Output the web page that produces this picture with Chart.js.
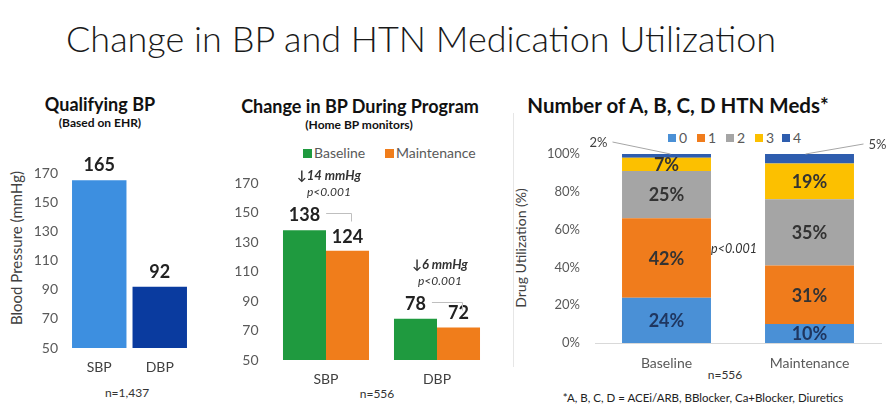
<!DOCTYPE html>
<html><head><meta charset="utf-8">
<script src="https://cdn.jsdelivr.net/npm/chart.js@4.4.1/dist/chart.umd.min.js"></script>
<style>
html,body{margin:0;padding:0;background:#fff;}
#root{position:relative;width:886px;height:408px;overflow:hidden;font-family:Lato,'Open Sans',sans-serif;color:#111;}
.t{position:absolute;white-space:nowrap;transform:translate(-50%,-50%);line-height:1;}
.r{position:absolute;white-space:nowrap;line-height:1;transform:translate(-50%,-50%) rotate(-90deg);}
canvas{position:absolute;}
.sq{position:absolute;width:8px;height:8px;}
.lg{position:absolute;white-space:nowrap;line-height:1;transform:translateY(-50%);color:#595959;font-size:14px;}
</style></head><body><div id="root">
<div style="position:absolute;left:66px;top:20px;font-size:36px;font-weight:300;line-height:1;white-space:nowrap;color:#1a1a1a;">Change in BP and HTN Medication Utilization</div>

<div class="t" style="left:100px;top:104px;font-size:18px;font-weight:700;">Qualifying BP</div>
<div class="t" style="left:100px;top:123px;font-size:12px;font-weight:700;">(Based on EHR)</div>
<div class="r" style="left:16px;top:248px;font-size:15px;color:#404040;">Blood Pressure (mmHg)</div>
<div class="t" style="left:127px;top:393px;font-size:12px;color:#333;">n=1,437</div>

<div class="t" style="left:360px;top:106px;font-size:18px;font-weight:700;">Change in BP During Program</div>
<div class="t" style="left:359px;top:125px;font-size:12px;font-weight:700;">(Home BP monitors)</div>
<div class="sq" style="left:303px;top:149px;width:9px;height:9px;background:#1f9a3f;"></div>
<div class="lg" style="left:314px;top:153px;">Baseline</div>
<div class="sq" style="left:385px;top:149px;width:9px;height:9px;background:#f07d1b;"></div>
<div class="lg" style="left:396px;top:153px;">Maintenance</div>
<div class="t" style="left:377px;top:394px;font-size:12px;color:#333;">n=556</div>

<div style="position:absolute;left:513px;top:113px;width:1px;height:254px;background:#e6e6e6;"></div>
<div class="t" style="left:678px;top:105px;font-size:20.5px;font-weight:700;">Number of A, B, C, D HTN Meds*</div>
<div id="legend3"></div>
<div class="r" style="left:521px;top:248px;font-size:14px;color:#404040;">Drug Utilization (%)</div>
<div class="t" style="left:725px;top:375px;font-size:12px;color:#333;">n=556</div>
<div class="t" style="left:703px;top:398px;font-size:11.5px;color:#222;">*A, B, C, D = ACEi/ARB, BBlocker, Ca+Blocker, Diuretics</div>

<canvas id="c1" width="200" height="240" style="left:0px;top:150px;width:200px;height:240px;"></canvas>
<canvas id="c2" width="280" height="230" style="left:220px;top:160px;width:280px;height:230px;"></canvas>
<canvas id="c3" width="366" height="250" style="left:520px;top:130px;width:366px;height:250px;"></canvas>
</div>
<script>
// ---- data ----
const bpCategories = ['SBP', 'DBP'];
const qualifyingBP = [165, 92];
const bpTickMin = 50, bpTickMax = 170, bpTickStep = 20;

const programCategories = ['SBP', 'DBP'];
const baselineBP = [138, 78];
const maintenanceBP = [124, 72];
const changeText = ['↓14 mmHg', '↓6 mmHg'];
const pText = ['p<0.001', 'p<0.001'];

const medPeriods = ['Baseline', 'Maintenance'];
const medCountLabels = ['0', '1', '2', '3', '4'];
const meds0 = [24, 10];
const meds1 = [42, 31];
const meds2 = [25, 35];
const meds3 = [7, 19];
const meds4 = [2, 5];
const medPText = 'p<0.001';

// ---- styles ----
const FONT = 'Lato, "Open Sans", sans-serif';
Chart.defaults.font.family = FONT;
const medColors = ['#4a90d6', '#f07c1c', '#a5a5a5', '#fcc000', '#2e5dae'];

// legend 3 (HTML)
const legendX = [668, 697, 726, 755, 782];
const lg = document.getElementById('legend3');
medCountLabels.forEach((l, i) => {
  lg.insertAdjacentHTML('beforeend',
    `<div class="sq" style="left:${legendX[i]}px;top:134px;background:${medColors[i]}"></div>` +
    `<div class="lg" style="left:${legendX[i] + 11}px;top:138px;">${l}</div>`);
});

const noGrid = {display: false, drawTicks: false};

// chart 1
const labels1 = {
  id: 'labels1',
  afterDatasetsDraw(chart) {
    const ctx = chart.ctx;
    ctx.save();
    ctx.font = 'bold 18px ' + FONT;
    ctx.fillStyle = '#222';
    ctx.textAlign = 'center';
    ctx.textBaseline = 'middle';
    chart.getDatasetMeta(0).data.forEach((b, i) => {
      ctx.fillText(String(qualifyingBP[i]), b.x, b.y - 15);
    });
    ctx.restore();
  }
};
new Chart(document.getElementById('c1'), {
  type: 'bar',
  data: {labels: bpCategories, datasets: [{data: qualifyingBP, backgroundColor: ['#3d8fe0', '#0a3b9f'], barPercentage: 0.9, categoryPercentage: 1}]},
  options: {
    responsive: false, animation: false, devicePixelRatio: 1,
    layout: {padding: {top: 23, right: 10, left: 0, bottom: 0}},
    plugins: {legend: {display: false}, tooltip: {enabled: false}},
    scales: {
      x: {grid: noGrid, border: {display: false}, ticks: {padding: 11, color: '#404040', font: {size: 14}}, afterFit: s => { s.height = 42; }},
      y: {min: bpTickMin, max: bpTickMax, grid: noGrid, border: {display: false},
          ticks: {stepSize: bpTickStep, padding: 11, color: '#595959', font: {size: 14}}, afterFit: s => { s.width = 69; }}
    }
  },
  plugins: [labels1]
});

// chart 2
const labels2 = {
  id: 'labels2',
  afterDatasetsDraw(chart) {
    const ctx = chart.ctx;
    const m0 = chart.getDatasetMeta(0).data, m1 = chart.getDatasetMeta(1).data;
    const xs = chart.scales.x;
    ctx.save();
    ctx.textAlign = 'center';
    ctx.textBaseline = 'middle';
    m0.forEach((b, i) => {
      const b2 = m1[i];
      const t1 = String(baselineBP[i]), t2 = String(maintenanceBP[i]);
      ctx.font = 'bold 18px ' + FONT;
      ctx.fillStyle = '#222';
      ctx.fillText(t1, b.x, b.y - 15);
      ctx.fillText(t2, b2.x, b2.y - 14);
      const w = ctx.measureText(t1).width;
      // bracket
      ctx.strokeStyle = '#bfbfbf';
      ctx.lineWidth = 1;
      ctx.beginPath();
      const yb = Math.round(b.y - 17) + 0.5;
      const xe = Math.round(b2.x + 3) + 0.5;
      ctx.moveTo(b.x + w / 2 + 6, yb);
      ctx.lineTo(xe, yb);
      ctx.lineTo(xe, yb + 8);
      ctx.stroke();
      // annotations
      const cx = xs.getPixelForValue(i) + 3;
      ctx.fillStyle = '#333';
      ctx.font = 'italic bold 13px ' + FONT;
      ctx.fillText(changeText[i], cx, b.y - 54);
      ctx.font = 'italic 12px ' + FONT;
      ctx.fillText(pText[i], cx, b.y - 38);
    });
    ctx.restore();
  }
};
new Chart(document.getElementById('c2'), {
  type: 'bar',
  data: {labels: programCategories, datasets: [
    {label: 'Baseline', data: baselineBP, backgroundColor: '#1f9a3f', barPercentage: 1, categoryPercentage: 0.775},
    {label: 'Maintenance', data: maintenanceBP, backgroundColor: '#f07d1b', barPercentage: 1, categoryPercentage: 0.775}
  ]},
  options: {
    responsive: false, animation: false, devicePixelRatio: 1,
    layout: {padding: {top: 23, right: 7.5, left: 0, bottom: 0}},
    plugins: {legend: {display: false}, tooltip: {enabled: false}},
    scales: {
      x: {grid: noGrid, border: {display: false}, ticks: {padding: 11, color: '#404040', font: {size: 14}}, afterFit: s => { s.height = 30; }},
      y: {min: bpTickMin, max: bpTickMax, grid: noGrid, border: {display: false},
          ticks: {stepSize: bpTickStep, padding: 12, color: '#595959', font: {size: 14}}, afterFit: s => { s.width = 50.5; }}
    }
  },
  plugins: [labels2]
});

// chart 3
const medSeries = [meds0, meds1, meds2, meds3, meds4];
const labels3 = {
  id: 'labels3',
  afterDatasetsDraw(chart) {
    const ctx = chart.ctx;
    ctx.save();
    ctx.textAlign = 'center';
    ctx.textBaseline = 'middle';
    for (let d = 0; d < 4; d++) {
      chart.getDatasetMeta(d).data.forEach((b, i) => {
        ctx.font = 'bold 18px ' + FONT;
        ctx.fillStyle = d === 0 ? '#1f3660' : '#333';
        ctx.fillText(medSeries[d][i] + '%', b.x, (b.y + b.base) / 2 + 1);
      });
    }
    // outside labels for the top series
    const top = chart.getDatasetMeta(4).data;
    ctx.font = '13px ' + FONT;
    ctx.fillStyle = '#404040';
    ctx.strokeStyle = '#a6a6a6';
    ctx.lineWidth = 1;
    top.forEach((b, i) => {
      const dir = i === 0 ? -1 : 1;
      const tx = b.x + dir * 68, ty = b.y - (i === 0 ? 11 : 9);
      ctx.fillText(meds4[i] + '%', tx, ty);
      ctx.beginPath();
      ctx.moveTo(tx - dir * 14, ty - 1);
      ctx.lineTo(b.x - dir * 4, b.y);
      ctx.stroke();
    });
    // p value between bars
    const xs = chart.scales.x, ys = chart.scales.y;
    ctx.font = 'italic 12.5px ' + FONT;
    ctx.fillStyle = '#333';
    ctx.fillText(medPText, (xs.getPixelForValue(0) + xs.getPixelForValue(1)) / 2 - 4, ys.getPixelForValue(50));
    ctx.restore();
  }
};
new Chart(document.getElementById('c3'), {
  type: 'bar',
  data: {labels: medPeriods, datasets: medSeries.map((s, i) => ({
    label: medCountLabels[i], data: s, backgroundColor: medColors[i], barPercentage: 1, categoryPercentage: 0.622
  }))},
  options: {
    responsive: false, animation: false, devicePixelRatio: 1,
    layout: {padding: {top: 24, right: 5, left: 0, bottom: 0}},
    plugins: {legend: {display: false}, tooltip: {enabled: false}},
    scales: {
      x: {stacked: true, grid: noGrid, border: {display: true, color: '#d9d9d9', width: 1},
          ticks: {padding: 12, color: '#595959', font: {size: 14}}, afterFit: s => { s.height = 37; }},
      y: {stacked: true, min: 0, max: 100, grid: noGrid, border: {display: false},
          ticks: {stepSize: 20, padding: 15, color: '#595959', font: {size: 13}, callback: v => v + '%'}, afterFit: s => { s.width = 75; }}
    }
  },
  plugins: [labels3]
});
</script>
</body></html>
